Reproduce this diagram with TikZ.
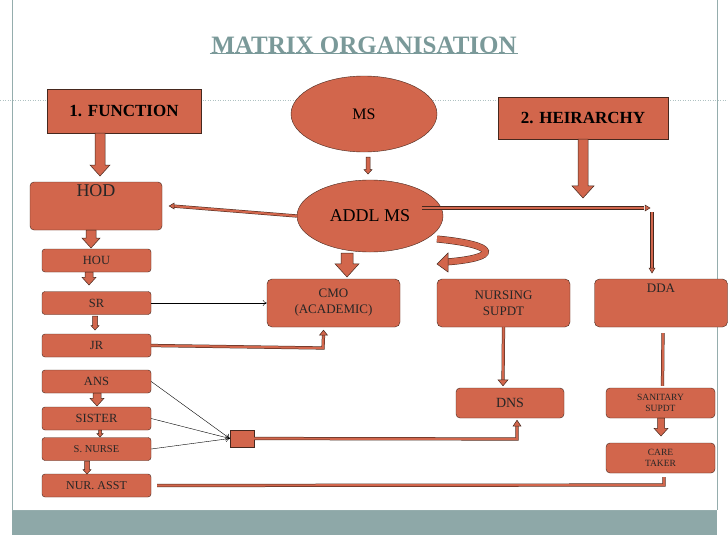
\documentclass[tikz,border=0pt]{standalone}
\usepackage{fontspec}
\setmainfont{Liberation Serif}
\usetikzlibrary{arrows.meta,shapes.geometric,calc}
\definecolor{of}{RGB}{210,102,76}
\definecolor{ol}{RGB}{70,40,30}
\definecolor{tl}{RGB}{122,153,153}
\tikzset{
 box/.style={draw=ol,fill=of,rounded corners=4pt,minimum width=#1,inner sep=0pt,align=center,text=black!85},
 sq/.style={draw=ol,fill=of,inner sep=0pt,align=center,text=black},
 ell/.style={draw=ol,fill=of,ellipse,inner sep=0pt},
 dl/.style={draw=ol,double=of,double distance=2.2pt,line width=0.5pt},
 thin/.style={draw=black,line width=0.4pt,-{To[length=4pt,width=6pt]}},
 blk/.style={draw=ol,fill=of,line width=0.5pt},
 tipa/.style={draw=ol,fill=of,line width=0.5pt}
}
\newcommand\barrow[5]{% x, y1, y2, half shaft, half head
 \filldraw[blk] (#1-#4,#2) -- (#1+#4,#2) -- (#1+#4,#3-#5*1.1) -- (#1+#5,#3-#5*1.1) -- (#1,#3) -- (#1-#5,#3-#5*1.1) -- (#1-#4,#3-#5*1.1) -- cycle;}
\begin{document}
\begin{tikzpicture}[x=1pt,y=-1pt]
\useasboundingbox (0,0) rectangle (728,546);
\fill[white] (0,0) rectangle (728,546);
% frame
\draw[tl!80,line width=0.6pt] (12,0) -- (12,510);
\draw[tl!80,line width=0.6pt] (717,0) -- (717,510);
\draw[tl!60,dotted,line width=0.5pt] (0,100) -- (728,100);
\fill[tl!85] (12,510) rectangle (717,535);
\draw[tl!80] (12,510) -- (717,510);
% title
\node[text=tl,font=\bfseries\fontsize{25}{25}\selectfont] (title) at (364,45) {MATRIX ORGANISATION};
\draw[tl,line width=1pt] ($(title.south west)+(2,-3)$) -- ($(title.south east)+(-2,-3)$);
% top boxes
\node[sq,minimum width=154pt,minimum height=44pt,font=\bfseries\fontsize{17}{17}\selectfont] (fun) at (124,111) {1. FUNCTION};
\node[ell,minimum width=146pt,minimum height=76pt,font=\fontsize{16}{16}\selectfont] (ms) at (364,114) {MS\\[14pt]};
\node[sq,minimum width=170pt,minimum height=42pt,font=\bfseries\fontsize{17}{17}\selectfont] (hei) at (583,118) {2. HEIRARCHY};
% second row
\node[box,minimum width=132pt,minimum height=48pt,font=\fontsize{18}{18}\selectfont] (hod) at (96,206) {HOD\\[12pt]};
\node[ell,minimum width=146pt,minimum height=72pt,font=\fontsize{18}{18}\selectfont] (addl) at (370,216) {ADDL MS};
% left column
\tikzset{lb/.style={box,minimum width=109pt,minimum height=23pt,rounded corners=3pt,font=\fontsize{12.5}{12.5}\selectfont}}
\node[lb] (hou) at (96.5,260.5) {\raisebox{-6pt}{HOU}};
\node[lb] (sr) at (96.5,303) {\raisebox{-4pt}{SR}};
\node[lb] (jr) at (96.5,345.5) {\raisebox{-6pt}{JR}};
\node[lb] (ans) at (96.5,381.5) {\raisebox{-6pt}{ANS}};
\node[lb] (sis) at (96.5,418.5) {\raisebox{-6pt}{SISTER}};
\node[lb,font=\fontsize{10.5}{10.5}\selectfont] (sn) at (96.5,449) {S. NURSE};
\node[lb,font=\fontsize{12}{12}\selectfont] (na) at (96.5,485.5) {\raisebox{-2pt}{NUR. ASST}};
% middle row
\tikzset{mb/.style={box,minimum width=133pt,minimum height=48pt,rounded corners=5pt,font=\fontsize{13}{16}\selectfont}}
\node[mb] (cmo) at (333.5,303) {CMO\\(ACADEMIC)};
\node[mb] (nsu) at (503.5,303) {NURSING\\SUPDT};
\node[mb] (dda) at (661,303) {DDA\\[14pt]};
\node[box,minimum width=108pt,minimum height=30pt,font=\fontsize{14}{14}\selectfont] (dns) at (510,403) {DNS};
\node[box,minimum width=109pt,minimum height=30pt,font=\fontsize{9.5}{11}\selectfont] (san) at (660.5,403) {SANITARY\\SUPDT};
\node[box,minimum width=109pt,minimum height=30pt,font=\fontsize{9.5}{15}\selectfont] (care) at (660.5,458) {\raisebox{-6pt}{\shortstack{CARE\\[2pt]TAKER}}};
\node[sq,minimum width=24pt,minimum height=17pt] (box) at (242,438.5) {};
% block arrows
\barrow{100}{133}{176}{5}{10}
\barrow{583}{139}{198}{5}{11}
\barrow{368}{157}{174}{2}{4}
\barrow{347}{253}{277}{6}{12}
\barrow{91}{230}{248}{5}{9}
\barrow{89}{272}{285}{4}{7}
\barrow{95}{316}{330}{2.5}{4}
\barrow{97}{393}{406}{4}{7}
\barrow{100}{430}{437}{1.5}{3}
\barrow{87}{461}{474}{2.5}{4}
\barrow{661}{418}{436}{3.5}{7}
% double-line connectors
\draw[dl] (addl.west) -- ($(hod.east)+(10,0)$);
\filldraw[tipa] ($(hod.east)+(7,0)$) -- ++(5,-3) -- ++(0,6) -- cycle;
\draw[dl] (addl.north east |- 0,208) -- (644,208);
\filldraw[tipa] (650,208) -- ++(-5,-3) -- ++(0,6) -- cycle;
\draw[dl] (652,212) -- (652,268);
\filldraw[tipa] (652,273) -- ++(-3,-5) -- ++(6,0) -- cycle;
\draw[dl] (jr.east) -- (323,348) -- ($(cmo.south)+(-10,8)$);
\filldraw[tipa] ($(cmo.south)+(-10,3)$) -- ++(-4,5) -- ++(8,0) -- cycle;
\draw[dl] (box.east) -- (517,439) -- ($(dns.south)+(7,8)$);
\filldraw[tipa] ($(dns.south)+(7,2)$) -- ++(-4,6) -- ++(8,0) -- cycle;
\draw[dl] (na.east)++(6,0) -- (664,485) -- ($(care.south)+(3.5,4)$);
\draw[dl] (nsu.south) -- ($(dns.north)+(-7,-7)$);
\filldraw[tipa] ($(dns.north)+(-7,-2)$) -- ++(-5,-6) -- ++(10,0) -- cycle;
\draw[dl] ($(dda.south)+(2,6)$) -- ($(san.north)+(2,-2)$);
% curved block arrow
\draw[ol,double=of,double distance=6pt,line width=0.5pt] (437,239) .. controls (500,245) and (500,258) .. (446,262);
\filldraw[tipa] (437,264) -- (448,253) -- (448,272) -- cycle;
% thin arrows
\draw[thin] (sr.east) -- (cmo.west);
\draw[thin] (ans.east) -- (box.west);
\draw[thin] (sis.east) -- (box.west);
\draw[thin] (sn.east) -- (box.west);
\end{tikzpicture}
\end{document}
